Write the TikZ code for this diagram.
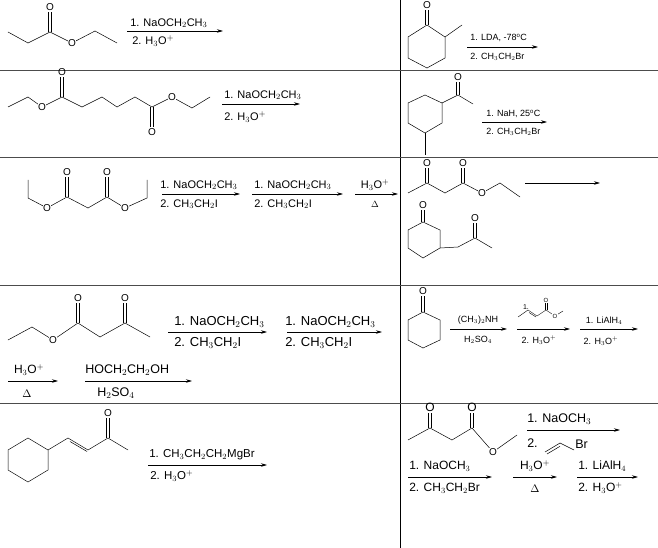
\documentclass[tikz,border=0pt]{standalone}
\usepackage{fontspec}
\setmainfont{Liberation Sans}
\usetikzlibrary{arrows.meta}
\newcommand\cO[2]{\draw (#1-1.3,#2)--(#1-1.3,#2-20) (#1+1.3,#2)--(#1+1.3,#2-20); \node[ox] at (#1,#2-25) {O};}
\newcommand\cOd[2]{\draw (#1-1.3,#2)--(#1-1.3,#2+20) (#1+1.3,#2)--(#1+1.3,#2+20); \node[ox] at (#1,#2+25) {O};}
\newcommand\Ox[2]{\node[ox,fill=white] at (#1,#2) {O};}
\begin{document}
\begin{tikzpicture}[x=1pt,y=-1pt,line width=0.5pt,
 ox/.style={font=\fontsize{10}{10}\selectfont,inner sep=0.4pt},
 rx/.style={-{Stealth[length=6pt,width=3.5pt]},line width=0.7pt},
 lb/.style={font=\fontsize{11}{12}\selectfont,inner sep=0pt},
 lbb/.style={font=\fontsize{13}{14}\selectfont,inner sep=0pt},
 ls/.style={font=\fontsize{9}{10}\selectfont,inner sep=0pt}]
\useasboundingbox (0,0) rectangle (658,548);
% grid
\draw[line width=0.7pt] (400,0)--(400,548);
\foreach \y in {70,157,285,403} \draw[line width=0.7pt,gray!60!black] (0,\y)--(658,\y);
% ===== Left row 1
\draw (8,32)--(28,43)--(50,32)--(72,43)--(95,31)--(117,43);
\Ox{72}{43}
\draw (48.7,32)--(48.7,12) (51.3,32)--(51.3,12); \node[ox] at (50,7) {O};
\draw[rx] (127,31)--(223,31);
\node[lb,anchor=west] at (130,23) {1. NaOCH$_2$CH$_3$};
\node[lb,anchor=west] at (132,41) {2. H$_3$O$^+$};
% ===== Left row 2
\draw (8,107)--(28,97)--(42,107)--(62,97)--(82,107)--(102,97)--(117,107)--(135,97)--(152,107)--(172,97)--(192,108)--(210,97);
\Ox{42}{107}\Ox{172}{97}
\cO{62}{97}
\cOd{152}{107}
\draw[rx] (222,104)--(300,104);
\node[lb,anchor=west] at (224,95) {1. NaOCH$_2$CH$_3$};
\node[lb,anchor=west] at (224,117) {2. H$_3$O$^+$};
% ===== Left row 3
\draw (28,180)--(28,198)--(47,208)--(67,197)--(88,208)--(107,197)--(125,208)--(147,198)--(147,180);
\Ox{47}{208}\Ox{125}{208}
\cO{67}{197}\cO{107}{197}
\draw[rx] (162,194)--(240,194);
\draw[rx] (252,194)--(343,194);
\draw[rx] (355,194)--(398,194);
\node[lb,anchor=west] at (160,185) {1. NaOCH$_2$CH$_3$};
\node[lb,anchor=west] at (160,204) {2. CH$_3$CH$_2$I};
\node[lb,anchor=west] at (254,185) {1. NaOCH$_2$CH$_3$};
\node[lb,anchor=west] at (254,204) {2. CH$_3$CH$_2$I};
\node[lb] at (375,185) {H$_3$O$^+$};
\node[lb,font=\fontsize{9}{10}\selectfont] at (375,204) {$\Delta$};
% ===== Left row 4
\draw (8,340)--(32,327)--(53,340)--(78,323)--(100,337)--(125,323)--(150,337);
\Ox{53}{340}
\cO{78}{323}\cO{125}{323}
\draw[rx] (168,332)--(267,332);
\draw[rx] (287,332)--(382,332);
\node[lbb,anchor=west] at (174,322) {1. NaOCH$_2$CH$_3$};
\node[lbb,anchor=west] at (174,343) {2. CH$_3$CH$_2$I};
\node[lbb,anchor=west] at (285,322) {1. NaOCH$_2$CH$_3$};
\node[lbb,anchor=west] at (285,343) {2. CH$_3$CH$_2$I};
\draw[rx] (8,381)--(58,381);
\node[lb,font=\fontsize{12}{13}\selectfont] at (29,370) {H$_3$O$^+$};
\node[lb] at (27,394) {$\Delta$};
\draw[rx] (85,381)--(192,381);
\node[lb,font=\fontsize{12.5}{13}\selectfont,anchor=west] at (85,370) {HOCH$_2$CH$_2$OH};
\node[lb,font=\fontsize{12.5}{13}\selectfont,anchor=west] at (97,393) {H$_2$SO$_4$};
% ===== Left row 5
\draw (8,450)--(28,438)--(48,450)--(48,470)--(28,482)--(8,470)--cycle;
\draw (48,450)--(68,438)--(88,450)--(108,438)--(128,450);
\draw (70,441.5)--(87,451.5);
\cO{108}{438}
\draw[rx] (148,465)--(267,465);
\node[lb,font=\fontsize{11.5}{12}\selectfont,anchor=west] at (149,455) {1. CH$_3$CH$_2$CH$_2$MgBr};
\node[lb,font=\fontsize{11.5}{12}\selectfont,anchor=west] at (150,476) {2. H$_3$O$^+$};
% ===== Right row 1
\draw (408,37)--(427,25)--(445,37)--(445,58)--(427,68)--(408,58)--cycle;
\draw (445,37)--(462,25);
\draw (425.7,25)--(425.7,10) (428.3,25)--(428.3,10); \node[ox] at (427,5) {O};
\draw[rx] (467,47)--(538,47);
\node[ls,anchor=west] at (470,38) {1. LDA, -78$^\mathrm{o}$C};
\node[ls,anchor=west] at (470,57) {2. CH$_3$CH$_2$Br};
% ===== Right row 2
\draw (408,103)--(425,95)--(442,103)--(442,123)--(425,133)--(408,123)--cycle;
\draw (442,103)--(458,95)--(473,104);
\draw (425,133)--(425,155);
\draw (456.7,95)--(456.7,82) (459.3,95)--(459.3,82); \node[ox] at (458,77) {O};
\draw[rx] (482,122)--(547,122);
\node[ls,anchor=west] at (486,114) {1. NaH, 25$^\mathrm{o}$C};
\node[ls,anchor=west] at (486,132) {2. CH$_3$CH$_2$Br};
% ===== Right row 3
\draw (408,193)--(427,183)--(445,193)--(463,183)--(482,193)--(500,183)--(520,197);
\Ox{482}{193}
\draw (425.7,183)--(425.7,168) (428.3,183)--(428.3,168); \node[ox] at (427,163) {O};
\draw (461.7,183)--(461.7,168) (464.3,183)--(464.3,168); \node[ox] at (463,163) {O};
\draw[rx] (525,183)--(600,183);
\draw (408,230)--(423,222)--(440,230)--(440,248)--(423,258)--(408,248)--cycle;
\draw (421.7,222)--(421.7,210) (424.3,222)--(424.3,210); \node[ox] at (423,205) {O};
\draw (440,248)--(458,247)--(475,238)--(492,248);
\draw (473.7,238)--(473.7,223) (476.3,238)--(476.3,223); \node[ox] at (475,218) {O};
% ===== Right row 4
\draw (408,320)--(423,312)--(440,320)--(440,340)--(423,348)--(408,340)--cycle;
\draw (421.7,312)--(421.7,296) (424.3,312)--(424.3,296); \node[ox] at (423,291) {O};
\draw[rx] (450,329)--(507,329);
\node[ls] at (478,320) {(CH$_3$)$_2$NH};
\node[ls] at (478,340) {H$_2$SO$_4$};
\draw[line width=0.4pt] (518,317)--(528,310)--(537,316)--(546,310)--(555,316)--(563,311);
\draw[line width=0.4pt] (529,312.5)--(536,317);
\draw[line width=0.4pt] (545.2,310)--(545.2,303) (546.8,310)--(546.8,303);
\node[ox,font=\fontsize{6}{6}\selectfont] at (546,300) {O};
\node[ox,font=\fontsize{6}{6}\selectfont,fill=white] at (555,316) {O};
\node[ls,font=\fontsize{7}{7}\selectfont] at (526,307) {1.};
\draw[rx] (517,329)--(570,329);
\node[ls] at (539,340) {2. H$_3$O$^+$};
\draw[rx] (580,329)--(638,329);
\node[ls] at (604,321) {1. LiAlH$_4$};
\node[ls] at (601,341) {2. H$_3$O$^+$};
% ===== Right row 5
\draw (408,440)--(430,428)--(452,440)--(472,428)--(493,452)--(517,435);
\Ox{493}{452}
\draw (428.7,428)--(428.7,413) (431.3,428)--(431.3,413); \node[ox,font=\fontsize{12}{12}\selectfont] at (430,407) {O};
\draw (470.7,428)--(470.7,413) (473.3,428)--(473.3,413); \node[ox,font=\fontsize{12}{12}\selectfont] at (472,407) {O};
\draw[rx] (527,430)--(620,430);
\node[lb,font=\fontsize{12.5}{13}\selectfont,anchor=west] at (527,419) {1. NaOCH$_3$};
\node[lb,font=\fontsize{12.5}{13}\selectfont,anchor=west] at (527,443) {2.};
\draw (545,452)--(560,443)--(574,450);
\draw (547,454)--(560,446.3);
\node[lb,font=\fontsize{12.5}{13}\selectfont,anchor=west] at (575,444) {Br};
\draw[rx] (408,477)--(492,477);
\node[lb,font=\fontsize{12}{13}\selectfont,anchor=west] at (409,466) {1. NaOCH$_3$};
\node[lb,font=\fontsize{12}{13}\selectfont,anchor=west] at (409,488) {2. CH$_3$CH$_2$Br};
\draw[rx] (513,477)--(557,477);
\node[lb,font=\fontsize{12}{13}\selectfont] at (535,466) {H$_3$O$^+$};
\node[lb] at (535,489) {$\Delta$};
\draw[rx] (577,477)--(638,477);
\node[lb,font=\fontsize{12}{13}\selectfont,anchor=west] at (578,466) {1. LiAlH$_4$};
\node[lb,font=\fontsize{12}{13}\selectfont,anchor=west] at (578,488) {2. H$_3$O$^+$};
\end{tikzpicture}
\end{document}
